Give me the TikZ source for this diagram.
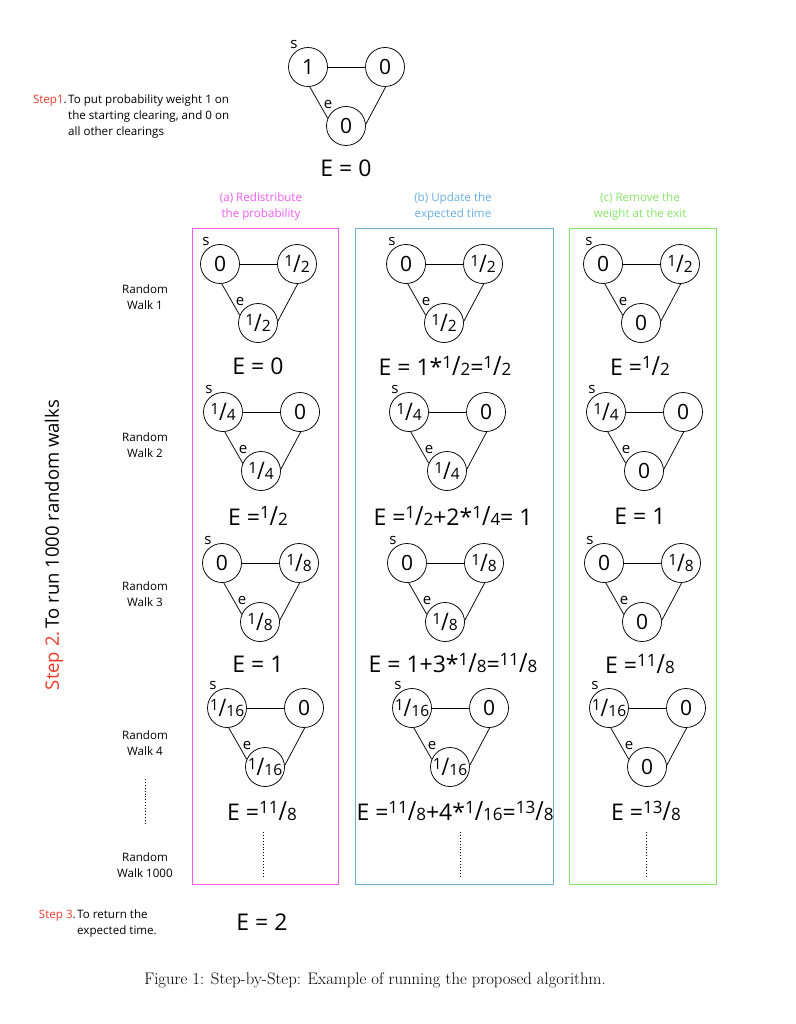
\documentclass[tikz,border=0pt]{standalone}
\usepackage{fontspec}
\usetikzlibrary{positioning,calc}
\newfontfamily\myr{Open Sans}
\definecolor{stepred}{HTML}{EE3A2A}
\definecolor{colA}{HTML}{F05AF0}
\definecolor{colB}{HTML}{6AAEE0}
\definecolor{colC}{HTML}{86E466}
% small built-up fraction
\newcommand{\fr}[2]{\raisebox{.3em}{\scalebox{.74}{#1}}\scalebox{1}[1.15]{/}\scalebox{.74}{#2}}
% one triangle of clearings: name, x, y, start, right, exit
\newcommand{\clearings}[6]{%
 \node[clr] (#1s) at (#2,#3) {#4};
 \node[clr] (#1r) at ([shift={(77,0)}]#1s) {#5};
 \node[clr] (#1e) at ([shift={(38,59)}]#1s) {#6};
 \node[tag] (#1sl) at ([shift={(-14,-23)}]#1s) {s};
 \node[tag] (#1el) at ([shift={(-18,-22)}]#1e) {e};
 \draw[link] (#1s) -- (#1r);
 \draw[link] (#1s.-85) -- (#1e.157);
 \draw[link] (#1r.-88) -- (#1e.5);}

\begin{document}
\begin{tikzpicture}[x=1pt,y=-1pt,
 every node/.style={font=\myr\fontsize{11.6}{16}\selectfont,align=center},
 clr/.style={draw,circle,minimum size=39pt,inner sep=0pt,line width=.75pt,font=\myr\fontsize{21}{22}\selectfont},
 tag/.style={inner sep=0pt,font=\myr\fontsize{15}{15}\selectfont},
 eq/.style={inner sep=0pt,font=\myr\fontsize{23}{26}\selectfont},
 walk/.style={inner sep=0pt},
 head/.style={inner sep=0pt},
 panel/.style={line width=.9pt},
 link/.style={line width=.75pt},
 dots/.style={dotted,line width=.9pt}]
\useasboundingbox (0,0) rectangle (795,1024);

% step 1
\clearings{init}{308}{67}{1}{0}{0}
\node[eq] (E0) at (346,168) {E = 0};
\node[anchor=east,inner sep=0pt] (step1) at (67,101) {\textcolor{stepred}{Step1}.};
\node[anchor=north west,align=left,inner sep=0pt] (step1txt) at (68,94) {To put probability weight 1 on\\the starting clearing, and 0 on\\all other clearings};

% panels
\draw[panel,draw=colA] (192,228) rectangle (338,884);
\draw[panel,draw=colB] (355,228) rectangle (553,884);
\draw[panel,draw=colC] (569,228) rectangle (716,884);
\node[head,text=colA] (headA) at (261,206) {(a) Redistribute\\the probability};
\node[head,text=colB] (headB) at (453,206) {(b) Update the\\expected time};
\node[head,text=colC] (headC) at (640,206) {(c) Remove the\\weight at the exit};

% step 2
\node[rotate=90,font=\myr\fontsize{18.5}{22}\selectfont,inner sep=0pt] (step2) at (54,545) {\textcolor{stepred}{Step 2.}\,To run 1000 random walks};
\node[walk] (walk1) at (145,297) {Random\\Walk 1};
\node[walk] (walk2) at (145,445) {Random\\Walk 2};
\node[walk] (walk3) at (145,594) {Random\\Walk 3};
\node[walk] (walk4) at (145,743) {Random\\Walk 4};
\node[walk] (walkN) at (145,865) {Random\\Walk 1000};
\draw[dots] (145,779) -- (145,825);

% walk 1
\clearings{a1}{220}{264}{0}{\fr12}{\fr12}
\clearings{b1}{406}{264}{0}{\fr12}{\fr12}
\clearings{c1}{603}{264}{0}{\fr12}{0}
\node[eq] (Ea1) at (258,366) {E = 0};
\node[eq] (Eb1) at (445,366) {E = 1*\fr12=\fr12};
\node[eq] (Ec1) at (640,366) {E =\fr12};

% walk 2
\clearings{a2}{223}{412}{\fr14}{0}{\fr14}
\clearings{b2}{409}{412}{\fr14}{0}{\fr14}
\clearings{c2}{606}{412}{\fr14}{0}{0}
\node[eq] (Ea2) at (258,516) {E =\fr12};
\node[eq] (Eb2) at (453,516) {E =\fr12+2*\fr14= 1};
\node[eq] (Ec2) at (640,516) {E = 1};

% walk 3
\clearings{a3}{222}{563}{0}{\fr18}{\fr18}
\clearings{b3}{407}{563}{0}{\fr18}{\fr18}
\clearings{c3}{604}{563}{0}{\fr18}{0}
\node[eq] (Ea3) at (258,664) {E = 1};
\node[eq] (Eb3) at (453,663) {E = 1+3*\fr18=\fr{11}8};
\node[eq] (Ec3) at (640,664) {E =\fr{11}8};

% walk 4
\clearings{a4}{227}{708}{\fr1{16}}{0}{\fr1{16}}
\clearings{b4}{412}{708}{\fr1{16}}{0}{\fr1{16}}
\clearings{c4}{609}{708}{\fr1{16}}{0}{0}
\node[eq] (Ea4) at (262,811) {E =\fr{11}8};
\node[eq] (Eb4) at (455,811) {E =\fr{11}8+4*\fr1{16}=\fr{13}8};
\node[eq] (Ec4) at (646,811) {E =\fr{13}8};
\draw[dots] (263,832) -- (263,876);
\draw[dots] (460,832) -- (460,876);
\draw[dots] (646,832) -- (646,876);

% step 3
\node[anchor=east,inner sep=0pt] (step3) at (76,916) {\textcolor{stepred}{Step 3}.};
\node[anchor=north west,align=left,inner sep=0pt] (step3txt) at (77,909) {To return the\\expected time.};
\node[eq] (Efinal) at (262,922) {E = 2};

\node[inner sep=0pt,font=\rmfamily\fontsize{16.7}{19}\selectfont] (caption) at (375,980) {Figure 1: Step-by-Step: Example of running the proposed algorithm.};
\end{tikzpicture}
\end{document}
